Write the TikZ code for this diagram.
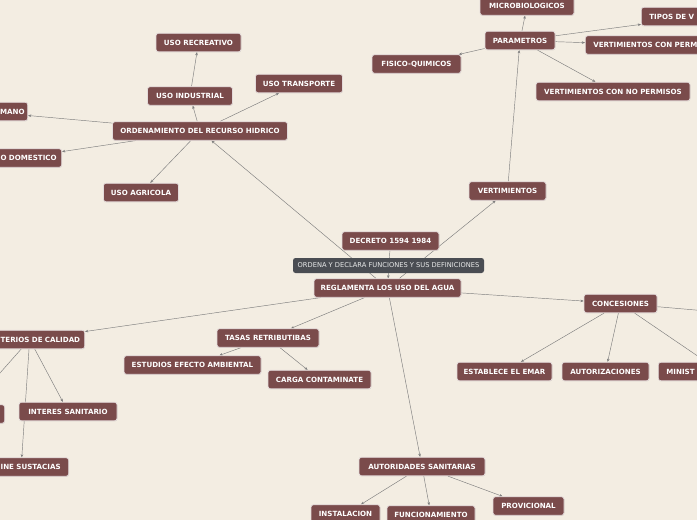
\documentclass[tikz,border=0pt]{standalone}
\usepackage{fontspec}
\setmainfont{DejaVu Sans}
\usetikzlibrary{arrows.meta,shadows,backgrounds}
\definecolor{bgc}{RGB}{243,237,226}
\definecolor{nodec}{RGB}{122,75,75}
\definecolor{labc}{RGB}{74,77,83}
\definecolor{linec}{RGB}{125,125,125}
\tikzset{
  topic/.style={rectangle, rounded corners=2.5pt, fill=nodec, draw=white!80!nodec,
    line width=0.7pt, text=white, font=\bfseries\fontsize{7.1}{8}\selectfont,
    minimum height=18.5pt, inner xsep=0pt, inner ysep=0pt,
    drop shadow={opacity=0.18, shadow xshift=0.3pt, shadow yshift=-0.7pt}},
  cutleft/.style={topic, anchor=east, align=right, inner xsep=8pt},
  cutright/.style={topic, anchor=west, align=left, inner xsep=8pt},
  lbl/.style={rectangle, rounded corners=2.5pt, fill=labc, text=white!88!labc,
    font=\fontsize{6.7}{8}\selectfont, minimum height=15pt, inner xsep=0pt, inner ysep=0pt},
  conn/.style={draw=linec, line width=0.45pt, -{Stealth[length=3.2pt,width=2.6pt]}}
}
\begin{document}
\begin{tikzpicture}[x=1pt,y=-1pt]
\useasboundingbox (0,0) rectangle (697,520);
\clip (0,0) rectangle (697,520);
% central
\node[topic, minimum width=97] (dec) at (390.5,241) {DECRETO 1594 1984};
\node[topic, minimum width=147] (reg) at (387.5,288) {REGLAMENTA LOS USO DEL AGUA};
% upper left branch
\node[topic, minimum width=175] (orden) at (200,131) {ORDENAMIENTO DEL RECURSO HIDRICO};
\node[topic, minimum width=85] (ind) at (190,96) {USO INDUSTRIAL};
\node[topic, minimum width=85] (rec) at (198.5,42.5) {USO RECREATIVO};
\node[topic, minimum width=87] (tra) at (299,83.5) {USO TRANSPORTE};
\node[cutleft, inner xsep=3pt, text width=82pt] (hum) at (28,111.5) {MANO};
\node[cutleft, inner xsep=5pt, text width=75pt] (dom) at (62,158) {O DOMESTICO};
\node[topic, minimum width=75] (agr) at (141,192.5) {USO AGRICOLA};
% upper right branch
\node[topic, minimum width=77] (ver) at (507.5,191) {VERTIMIENTOS};
\node[topic, minimum width=70] (par) at (520,40.5) {PARAMETROS};
\node[topic, minimum width=94] (mic) at (527,6) {MICROBIOLOGICOS};
\node[topic, minimum width=89] (fis) at (416.5,64) {FISICO-QUIMICOS};
\node[cutright, text width=102pt] (tip) at (641,16.5) {TIPOS DE V};
\node[cutright, text width=124pt] (vcp) at (585,45) {VERTIMIENTOS CON PERM};
\node[topic, minimum width=154] (vnp) at (613,91.5) {VERTIMIENTOS CON NO PERMISOS};
% right branch
\node[topic, minimum width=73] (con) at (620.5,303.5) {CONCESIONES};
\node[topic, minimum width=95] (est) at (504.5,371.5) {ESTABLECE EL EMAR};
\node[topic, minimum width=87] (aut) at (605.5,371.5) {AUTORIZACIONES};
\node[cutright, text width=108pt] (min) at (658,371.5) {MINIST};
\coordinate (conr) at (730,313);
% bottom branch
\node[topic, minimum width=126] (ausan) at (422,466.5) {AUTORIDADES SANITARIAS};
\node[topic, minimum width=69] (ins) at (345.5,514) {INSTALACION};
\node[topic, minimum width=88] (fun) at (431,515) {FUNCIONAMIENTO};
\node[topic, minimum width=71] (pro) at (528.5,506) {PROVICIONAL};
% left branch
\node[cutleft, inner xsep=4.5pt, text width=101pt] (cri) at (85,339.5) {TERIOS DE CALIDAD};
\node[cutleft, text width=66pt] (crl) at (5,414) {};
\node[topic, minimum width=98] (int) at (68,411.5) {INTERES SANITARIO};
\node[cutleft, text width=79pt] (sus) at (69,467) {INE SUSTACIAS};
\node[topic, minimum width=102] (tas) at (268,338) {TASAS RETRIBUTIBAS};
\node[topic, minimum width=137] (estu) at (192.5,365) {ESTUDIOS EFECTO AMBIENTAL};
\node[topic, minimum width=103] (car) at (319.5,379.5) {CARGA CONTAMINATE};
% connector label
\node[lbl, minimum width=191] (ordl) at (388.5,265.5) {ORDENA Y DECLARA FUNCIONES Y SUS DEFINICIONES};
\begin{pgfonlayer}{background}
\fill[bgc] (0,0) rectangle (697,520);
\draw[conn] (dec) -- (reg);
\draw[conn] (reg) -- (orden);
\draw[conn] (reg) -- (ver);
\draw[conn] (reg) -- (con);
\draw[conn] (reg) -- (cri);
\draw[conn] (reg) -- (tas);
\draw[conn] (reg) -- (ausan);
\draw[conn] (orden) -- (ind);
\draw[conn] (ind) -- (rec);
\draw[conn] (orden) -- (tra);
\draw[conn] (orden) -- (hum);
\draw[conn] (orden) -- (dom);
\draw[conn] (orden) -- (agr);
\draw[conn] (ver) -- (par);
\draw[conn] (par) -- (mic);
\draw[conn] (par) -- (fis);
\draw[conn] (par) -- (tip);
\draw[conn] (par) -- (vcp);
\draw[conn] (par) -- (vnp);
\draw[conn] (con) -- (est);
\draw[conn] (con) -- (aut);
\draw[conn] (con) -- (min);
\draw[conn] (con) -- (conr);
\draw[conn] (ausan) -- (ins);
\draw[conn] (ausan) -- (fun);
\draw[conn] (ausan) -- (pro);
\draw[conn] (cri) -- (crl);
\draw[conn] (cri) -- (int);
\draw[conn] (cri) -- (sus);
\draw[conn] (tas) -- (estu);
\draw[conn] (tas) -- (car);
\end{pgfonlayer}
\end{tikzpicture}
\end{document}
